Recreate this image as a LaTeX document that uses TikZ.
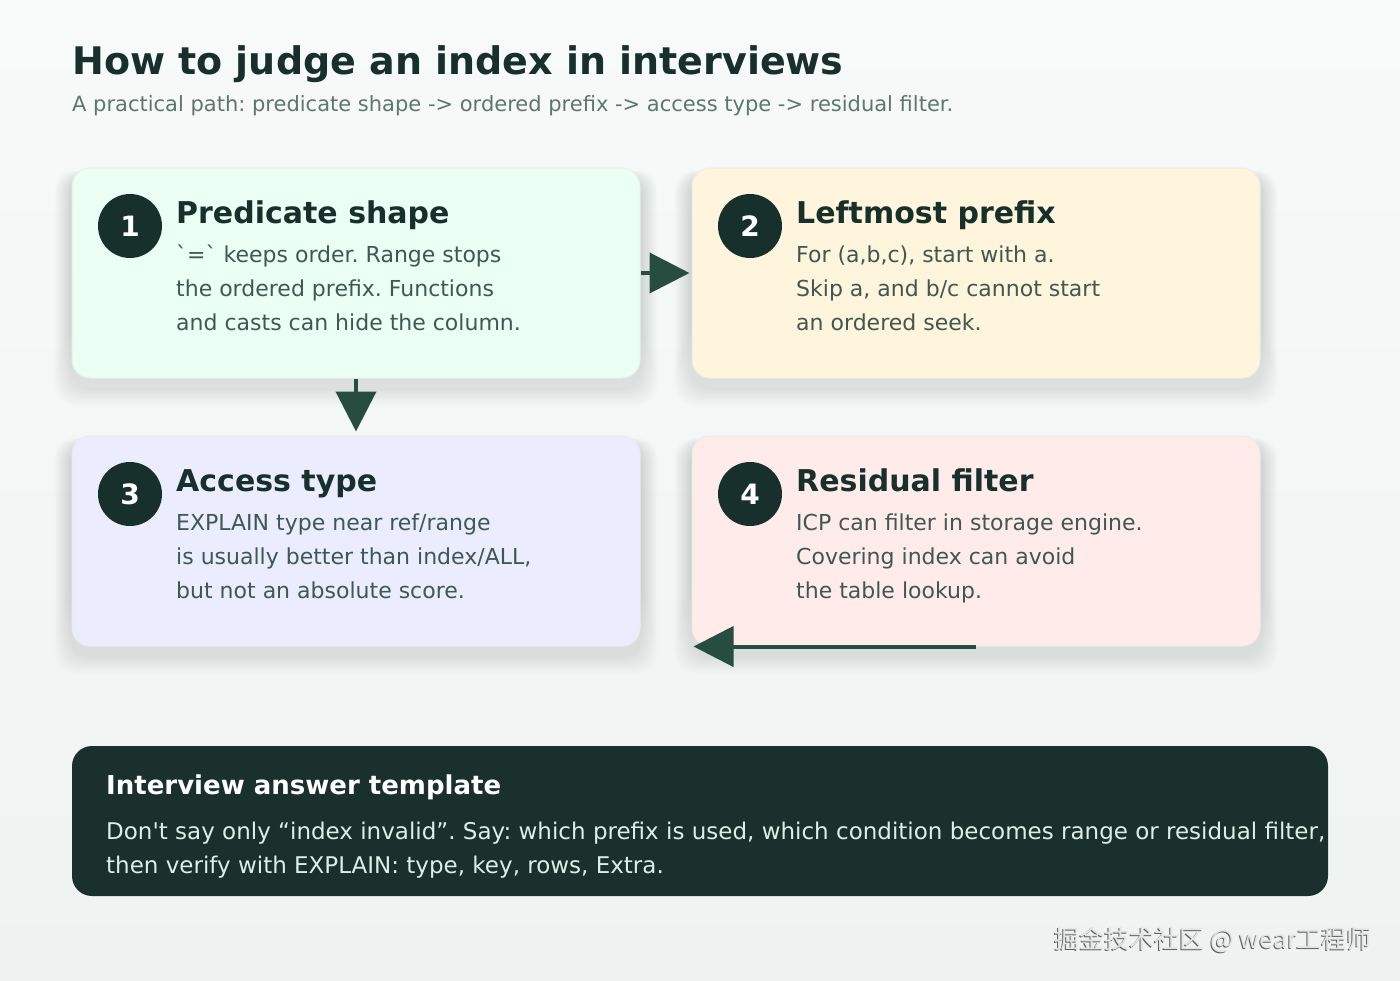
\documentclass[tikz,border=0pt]{standalone}
\usepackage{fontspec}
\setmainfont{DejaVu Sans}[Ligatures=TeXOff]
\newfontfamily\cjk{Noto Sans CJK SC}
\usetikzlibrary{arrows.meta,positioning}
\definecolor{bgtop}{HTML}{F7FAF9}
\definecolor{bgbot}{HTML}{EEF3F1}
\definecolor{ink}{HTML}{18302B}
\definecolor{sub}{HTML}{5E7670}
\definecolor{bodyc}{HTML}{3F5852}
\definecolor{arrowc}{HTML}{264D40}
\definecolor{cardline}{HTML}{E6EEEA}
\definecolor{shade}{HTML}{2E4A42}
\definecolor{mint}{HTML}{EBFFF4}
\definecolor{sand}{HTML}{FFF5DC}
\definecolor{lilac}{HTML}{EBEDFF}
\definecolor{rose}{HTML}{FFECEA}
\definecolor{panel}{HTML}{1A302C}
\definecolor{paneltext}{HTML}{DCEFE7}
\definecolor{wmark}{HTML}{E2E5E4}
\pgfdeclarelayer{bg}
\pgfdeclarelayer{shadowlayer}
\pgfsetlayers{bg,shadowlayer,main}
\frenchspacing

\begin{document}
\begin{tikzpicture}[x=1pt,y=-1pt,
    card/.style={draw=cardline,line width=1pt,rounded corners=18pt,
                 minimum width=568pt,minimum height=210pt},
    badge/.style={circle,fill=ink,text=white,minimum size=64pt,inner sep=0pt,
                  font=\fontsize{28}{28}\selectfont\bfseries},
    cardtitle/.style={anchor=base west,inner sep=0pt,text=ink,
                      font=\fontsize{30}{30}\selectfont\bfseries},
    cardbody/.style={anchor=north west,inner sep=0pt,text=bodyc,align=left,
                     font=\fontsize{22}{34}\selectfont},
    flow/.style={draw=arrowc,line width=4pt,
                 -{Triangle[length=40pt,width=40pt]}}]
  \useasboundingbox (0,0) rectangle (1400,980);
  \begin{pgfonlayer}{bg}
    \shade[top color=bgtop,bottom color=bgbot] (0,0) rectangle (1400,980);
  \end{pgfonlayer}

  % heading
  \node [anchor=base west,inner sep=0pt,text=ink,
         font=\fontsize{38}{38}\selectfont\bfseries] (head) at (72,74)
        {How to judge an index in interviews};
  \node [anchor=base west,inner sep=0pt,text=sub,
         font=\fontsize{21}{21}\selectfont] (subhead) at (72,111)
        {A practical path: predicate shape -> ordered prefix -> access type -> residual filter.};

  % cards
  \node [card,fill=mint]  (c1) at (356,273) {};
  \node [card,fill=sand]  (c2) at (976,273) {};
  \node [card,fill=lilac] (c3) at (356,541) {};
  \node [card,fill=rose]  (c4) at (976,541) {};

  % soft shadows under the cards
  \begin{pgfonlayer}{shadowlayer}
    \foreach \c in {c1,c2,c3,c4}
      \foreach \k in {2,4,...,24}
        \fill [shade,opacity=0.006,rounded corners=20pt]
          ([shift={(-\k*0.7,10-\k*0.3)}]\c.north west)
          rectangle ([shift={(\k*0.7,10+\k*0.7)}]\c.south east);
  \end{pgfonlayer}

  \node [badge] (b1) at (130,226) {1};
  \node [badge] (b2) at (750,226) {2};
  \node [badge] (b3) at (130,494) {3};
  \node [badge] (b4) at (750,494) {4};

  \node [cardtitle] (t1) at (176,223) {Predicate shape};
  \node [cardtitle] (t2) at (796,223) {Leftmost prefix};
  \node [cardtitle] (t3) at (176,491) {Access type};
  \node [cardtitle] (t4) at (796,491) {Residual filter};

  \node [cardbody] (d1) at (176,245)
        {`=` keeps order. Range stops\\the ordered prefix. Functions\\and casts can hide the column.};
  \node [cardbody] (d2) at (796,246)
        {For (a,b,c), start with a.\\Skip a, and b/c cannot start\\an ordered seek.};
  \node [cardbody] (d3) at (176,514)
        {EXPLAIN type near ref/range\\is usually better than index/ALL,\\but not an absolute score.};
  \node [cardbody] (d4) at (796,514)
        {ICP can filter in storage engine.\\Covering index can avoid\\the table lookup.};

  \path (c1.east)  edge [flow,shorten >=2pt] (c2.west)
        (c1.south) edge [flow,shorten >=4pt] (c3.north)
        (c4.south) edge [flow,shorten >=2pt] (c4.south west);

  % answer template
  \node [fill=panel,rounded corners=20pt,minimum width=1256pt,
         minimum height=150pt,inner sep=0pt] (panel) at (700,821) {};
  \node [anchor=base west,inner sep=0pt,text=white,
         font=\fontsize{26}{26}\selectfont\bfseries] (ptitle) at (106,794)
        {Interview answer template};
  \node [anchor=north west,inner sep=0pt,text=paneltext,align=left,
         font=\fontsize{23}{34}\selectfont] (pbody) at (106,822)
        {Don't say only “index invalid”. Say: which prefix is used, which condition becomes range or residual filter,\\then verify with EXPLAIN: type, key, rows, Extra.};

  % watermark
  \node [anchor=east,inner sep=0pt,text=gray!75!black,
         font=\fontsize{25}{25}\selectfont] (wshadow) at (1371,941)
        {\cjk 掘金技术社区 @ wear工程师};
  \node [anchor=east,inner sep=0pt,text=wmark,
         font=\fontsize{25}{25}\selectfont] (wm) at (1372,940)
        {\cjk 掘金技术社区 @ wear工程师};
\end{tikzpicture}
\end{document}
